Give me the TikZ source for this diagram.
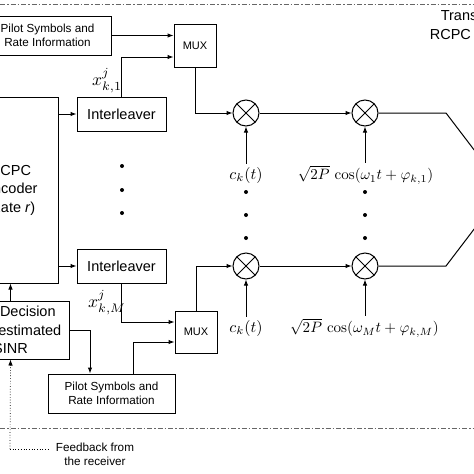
\documentclass[tikz,border=0pt]{standalone}
\usepackage[no-math]{fontspec}
\setmainfont{Liberation Sans}
\usetikzlibrary{arrows.meta,calc}
\begin{document}
\begin{tikzpicture}[x=1pt,y=-1pt,
  line width=1pt,
  box/.style={draw,rectangle,inner sep=0pt,align=center},
  bigtxt/.style={font=\fontsize{14.5}{18.5}\selectfont},
  smalltxt/.style={font=\fontsize{11.7}{14}\selectfont},
  muxtxt/.style={font=\fontsize{11}{13}\selectfont},
  mult/.style={draw,circle,minimum size=26pt,inner sep=0pt,
    path picture={\draw[line width=0.8pt] (path picture bounding box.north west)--(path picture bounding box.south east)
      (path picture bounding box.north east)--(path picture bounding box.south west);}},
  arr/.style={-{Latex[length=6pt,width=4.5pt]}},
  mathlbl/.style={inner sep=1.5pt,scale=1.6},
  dotmark/.style={fill,circle,inner sep=0pt,minimum size=4pt},
  border/.style={line width=0.6pt,gray!80!black,dash pattern=on 5pt off 2pt on 1.5pt off 2pt}]
\useasboundingbox (0,0) rectangle (474,474);
\clip (0,0) rectangle (474,474);
% frame lines
\coordinate (tl) at (0,4);
\coordinate (tr) at (474,4);
\coordinate (bl) at (0,428);
\coordinate (br) at (474,428);
\draw[border] (tl) -- (tr);
\draw[border] (bl) -- (br);
\node[anchor=west,bigtxt] (tx1) at (437,15) {Transmitter with};
\node[anchor=west,bigtxt] (tx2) at (426,34) {RCPC encoder};
% boxes
\node[box,smalltxt,minimum width=127pt,minimum height=39pt] (pilot1) at (47.5,35.5) {Pilot Symbols and\\Rate Information};
\node[box,muxtxt,minimum width=42pt,minimum height=43pt] (mux1) at (195,45.5) {MUX};
\node[box,bigtxt,minimum width=89pt,minimum height=34pt] (il1) at (121.5,114) {Interleaver};
\node[box,bigtxt,minimum width=95pt,minimum height=186pt] (enc) at (10.5,190) {RCPC\\Encoder\\(Rate \textit{r})};
\node[box,bigtxt,minimum width=89pt,minimum height=34pt] (ilM) at (121.5,266) {Interleaver};
\node[box,bigtxt,minimum width=117pt,minimum height=58pt] (dec) at (10.5,330) {Rate Decision\\using estimated\\SINR};
\node[box,muxtxt,minimum width=42pt,minimum height=42pt] (muxM) at (196,332) {MUX};
\node[box,smalltxt,minimum width=127pt,minimum height=39pt] (pilotM) at (111.5,393.5) {Pilot Symbols and\\Rate Information};
% multipliers
\node[mult] (m1) at (246,113) {};
\node[mult] (m2) at (365,113) {};
\node[mult] (m3) at (246,266) {};
\node[mult] (m4) at (365,266) {};
% labels
\node[mathlbl,scale=1.1] (x1) at (107,81) {$x_{k,1}^{j}$};
\node[mathlbl,scale=1.1] (xM) at (107,303) {$x_{k,M}^{j}$};
\node[mathlbl] (c1) at (246,175) {$c_k(t)$};
\node[mathlbl] (c2) at (246,328) {$c_k(t)$};
\node[mathlbl,scale=0.94] (s1) at (365.5,175) {$\sqrt{2P}\,\cos(\omega_1 t+\varphi_{k,1})$};
\node[mathlbl,scale=0.94] (s2) at (364.5,328) {$\sqrt{2P}\,\cos(\omega_M t+\varphi_{k,M})$};
\node[smalltxt,align=center] (fb) at (95,454) {Feedback from\\the receiver};
% dots
\foreach \yy [count=\i] in {166,190,213} {\node[dotmark] (da\i) at (122,\yy) {};}
\foreach \yy [count=\i] in {192,215,238} {\node[dotmark] (db\i) at (246,\yy) {}; \node[dotmark] (dc\i) at (365,\yy) {};}
% connectors
\draw[arr] (pilot1.east) -- (pilot1.east -| mux1.west);
\draw[arr] (il1.north) |- ($(mux1.west)+(0,11.5)$);
\draw[arr] (mux1.south) |- (m1.west);
\draw[arr] (enc.east |- il1.west) -- (il1.west);
\draw[arr] (enc.east |- ilM.west) -- (ilM.west);
\draw[arr] (ilM.south) |- ($(muxM.west)+(0,-10)$);
\draw[arr] ([xshift=21.5pt]pilotM.north) |- ($(muxM.west)+(0,10)$);
\draw[arr] (muxM.north) |- (m3.west);
\draw[arr] (dec.east) -| ([xshift=-21.5pt]pilotM.north);
\draw[arr] (dec.north) -- (enc.south);
\coordinate (fbc) at (10,449);
\draw[arr,dotted,line width=0.7pt] (fbc) -- (dec.south);
\draw[dotted,line width=0.7pt] (fbc) -- (48,449);
\draw[arr] (m1) -- (m2);
\draw[arr] (m3) -- (m4);
\draw[arr] (c1.north) -- (m1.south);
\draw[arr] (c2.north) -- (m3.south);
\draw[arr] (s1.north -| m2) -- (m2.south);
\draw[arr] (s2.north -| m4) -- (m4.south);
\coordinate (o1) at (446,113);
\coordinate (o1e) at (478,155);
\coordinate (o2) at (446,266);
\coordinate (o2e) at (478,224);
\draw (m2.east) -- (o1) -- (o1e);
\draw (m4.east) -- (o2) -- (o2e);
\end{tikzpicture}
\end{document}
